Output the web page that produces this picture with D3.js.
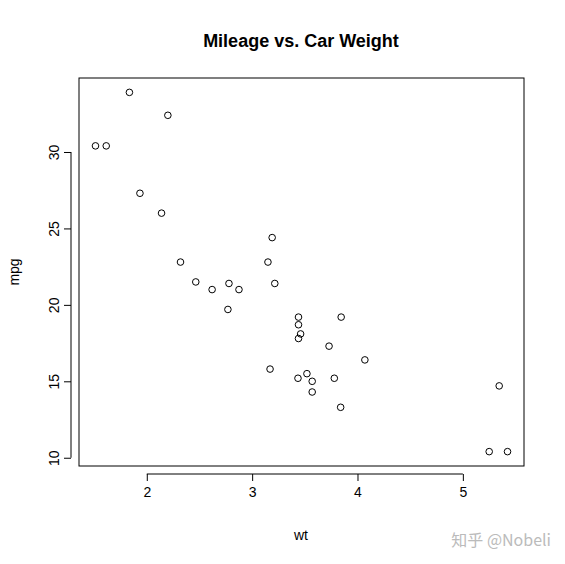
<!DOCTYPE html>
<html>
<head>
<script src="https://d3js.org/d3.v7.min.js"></script>
<style>
  body { margin: 0; background: #fff; }
  svg text { font-family: Arial, "Liberation Sans", sans-serif; fill: #000; }
</style>
</head>
<body>
<svg width="565" height="564"></svg>
<script>
// mtcars: weight (1000 lbs) and miles per gallon
const wt  = [2.620, 2.875, 2.320, 3.215, 3.440, 3.460, 3.570, 3.190, 3.150, 3.440, 3.440,
             4.070, 3.730, 3.780, 5.250, 5.424, 5.345, 2.200, 1.615, 1.835, 2.465, 3.520,
             3.435, 3.840, 3.845, 1.935, 2.140, 1.513, 3.170, 2.770, 3.570, 2.780]
const mpg = [21.0, 21.0, 22.8, 21.4, 18.7, 18.1, 14.3, 24.4, 22.8, 19.2, 17.8,
             16.4, 17.3, 15.2, 10.4, 10.4, 14.7, 32.4, 30.4, 33.9, 21.5, 15.5,
             15.2, 13.3, 19.2, 27.3, 26.0, 30.4, 15.8, 19.7, 15.0, 21.4]
const xTicks = [2, 3, 4, 5]
const yTicks = [10, 15, 20, 25, 30]

let svg = d3.select('svg')
let box = {left: 79, right: 524, top: 78, bottom: 466}

// R-style 4% padding of the data range
let pad = (a, b) => [a - (b - a) * 0.04, b + (b - a) * 0.04]
let xScale = d3.scaleLinear().domain(pad(d3.min(wt), d3.max(wt))).range([box.left, box.right])
let yScale = d3.scaleLinear().domain(pad(d3.min(mpg), d3.max(mpg))).range([box.bottom, box.top])

svg.append('rect')
    .attr('x', box.left).attr('y', box.top)
    .attr('width', box.right - box.left).attr('height', box.bottom - box.top)
    .attr('fill', 'none').attr('stroke', '#000')

let xAxis = svg.append('g')
    .attr('transform', `translate(0,${box.bottom + 8})`)
    .call(d3.axisBottom(xScale).tickValues(xTicks).tickSize(7).tickPadding(6).tickFormat(d3.format('d')))
xAxis.select('.domain').attr('d', `M${xScale(2)},0H${xScale(5)}`)
xAxis.selectAll('text').style('font-size', '14px')

let yAxis = svg.append('g')
    .attr('transform', `translate(${box.left - 8},0)`)
    .call(d3.axisLeft(yScale).tickValues(yTicks).tickSize(7).tickPadding(0).tickFormat(d3.format('d')))
yAxis.select('.domain').attr('d', `M0,${yScale(10)}V${yScale(30)}`)
yAxis.selectAll('text')
    .style('font-size', '14px')
    .attr('text-anchor', 'middle')
    .attr('dy', 0)
    .attr('transform', 'translate(-14,0) rotate(-90)')
    .attr('x', 0).attr('y', 0)
yAxis.selectAll('.tick text').attr('transform', 'translate(-12,0) rotate(-90)')

svg.selectAll('circle.pt')
    .data(wt)
    .enter()
    .append('circle')
    .attr('class', 'pt')
    .attr('cx', d => xScale(d))
    .attr('cy', (d, i) => yScale(mpg[i]))
    .attr('r', 3.3)
    .attr('fill', 'none')
    .attr('stroke', '#000')

svg.append('text').attr('x', 301).attr('y', 47).attr('text-anchor', 'middle')
    .style('font-size', '18px').style('font-weight', 'bold').text('Mileage vs. Car Weight')
svg.append('text').attr('x', 301).attr('y', 540).attr('text-anchor', 'middle')
    .style('font-size', '14px').text('wt')
svg.append('text').attr('transform', 'translate(19,272) rotate(-90)').attr('text-anchor', 'middle')
    .style('font-size', '14px').text('mpg')
svg.append('text').attr('x', 551).attr('y', 546).attr('text-anchor', 'end')
    .style('font-size', '16px').style('font-family', '"Noto Sans CJK SC", sans-serif')
    .style('fill', '#bbb').text('知乎 @Nobeli')
</script>
</body>
</html>
